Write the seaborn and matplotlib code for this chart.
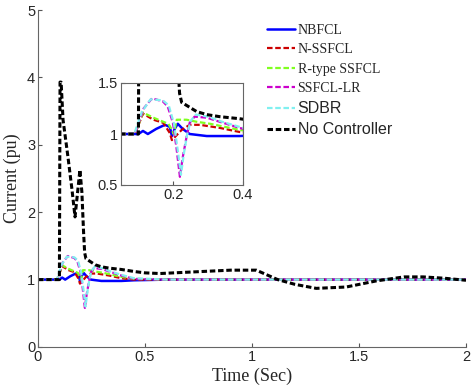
import matplotlib
matplotlib.use('Agg')
import matplotlib.pyplot as plt
import seaborn as sns
import pandas as pd

# Data (time in sec, current in pu)
t_nbfcl = [0, 0.1, 0.113, 0.127, 0.151, 0.176, 0.19, 0.196, 0.204, 0.213, 0.227, 0.247, 0.296, 0.39, 0.45, 0.6, 1.0, 1.5, 2.0]
i_nbfcl = [1.0, 1.0, 1.03, 1.0, 1.05, 1.09, 1.07, 0.98, 1.05, 1.1, 1.05, 1.0, 0.98, 0.98, 0.99, 1.0, 1.0, 1.0, 1.0]

t_nssfcl = [0, 0.09, 0.113, 0.143, 0.171, 0.19, 0.196, 0.21, 0.224, 0.247, 0.276, 0.333, 0.39, 0.45, 0.6, 1.0, 1.5, 2.0]
i_nssfcl = [1.0, 1.0, 1.2, 1.14, 1.11, 1.01, 0.94, 0.99, 1.04, 1.09, 1.09, 1.06, 1.02, 1.0, 1.0, 1.0, 1.0, 1.0]

t_rtype = [0, 0.09, 0.113, 0.143, 0.171, 0.186, 0.196, 0.201, 0.21, 0.238, 0.267, 0.306, 0.39, 0.45, 0.6, 1.0, 1.5, 2.0]
i_rtype = [1.0, 1.0, 1.21, 1.16, 1.12, 1.1, 1.04, 1.0, 1.14, 1.14, 1.12, 1.1, 1.04, 1.01, 1.0, 1.0, 1.0, 1.0]

t_lr = [0, 0.09, 0.115, 0.139, 0.17, 0.184, 0.199, 0.209, 0.219, 0.227, 0.238, 0.247, 0.261, 0.296, 0.333, 0.39, 0.45, 0.6, 1.0, 1.5, 2.0]
i_lr = [1.0, 1.0, 1.25, 1.35, 1.32, 1.27, 1.11, 0.87, 0.58, 0.77, 0.97, 1.11, 1.17, 1.16, 1.12, 1.06, 1.01, 1.0, 1.0, 1.0, 1.0]

t_sdbr = [0, 0.088, 0.11, 0.135, 0.17, 0.187, 0.202, 0.212, 0.222, 0.23, 0.24, 0.25, 0.265, 0.3, 0.34, 0.39, 0.45, 0.6, 1.0, 1.5, 2.0]
i_sdbr = [1.0, 1.0, 1.22, 1.34, 1.33, 1.28, 1.1, 0.86, 0.6, 0.8, 1.0, 1.13, 1.19, 1.17, 1.12, 1.07, 1.02, 1.0, 1.0, 1.0, 1.0]

t_none = [0, 0.1, 0.103, 0.108, 0.117, 0.14, 0.159, 0.173, 0.196, 0.205, 0.213, 0.218, 0.224, 0.267, 0.296, 0.333, 0.39,
          0.45, 0.5, 0.57, 0.7, 0.9, 1.02, 1.12, 1.2, 1.3, 1.44, 1.58, 1.71, 1.8, 1.9, 2.0]
i_none = [1.0, 1.0, 3.93, 3.93, 3.37, 2.82, 2.33, 1.93, 2.63, 2.3, 1.7, 1.4, 1.31, 1.22, 1.19, 1.17, 1.15,
          1.12, 1.1, 1.09, 1.11, 1.14, 1.14, 1.0, 0.93, 0.87, 0.89, 0.98, 1.04, 1.04, 1.02, 0.99]

series = [
    ('NBFCL', t_nbfcl, i_nbfcl, '#0000ff', '-', 1.8),
    ('N-SSFCL', t_nssfcl, i_nssfcl, '#cc0000', (0, (2.5, 1.2)), 1.6),
    ('R-type SSFCL', t_rtype, i_rtype, '#80ff20', (0, (2.5, 1.2)), 1.6),
    ('SSFCL-LR', t_lr, i_lr, '#cc00cc', (0, (2.5, 1.2)), 1.6),
    ('SDBR', t_sdbr, i_sdbr, '#80f0f0', (0, (2.5, 1.2)), 1.6),
    ('No Controller', t_none, i_none, '#000000', (0, (1.8, 0.9)), 2.2),
]

sns.set_style('ticks')
plt.rcParams['font.family'] = ['Liberation Sans', 'DejaVu Sans']
plt.rcParams['xtick.direction'] = 'in'
plt.rcParams['ytick.direction'] = 'in'

fig = plt.figure(figsize=(4.74, 3.92), dpi=100)
ax = fig.add_axes([38 / 474, 1 - 347 / 392, 428 / 474, 337 / 392])

for name, t, i, color, ls, lw in series:
    df = pd.DataFrame({'Time': t, 'Current': i})
    sns.lineplot(data=df, x='Time', y='Current', ax=ax, color=color, linestyle=ls,
                 linewidth=lw, label=name, sort=False, estimator=None)

ax.set_xlim(0, 2)
ax.set_ylim(0, 5)
ax.set_xticks([0, 0.5, 1, 1.5, 2])
ax.set_xticklabels(['0', '0.5', '1', '1.5', '2'])
ax.set_yticks([0, 1, 2, 3, 4, 5])
ax.tick_params(labelsize=10.5, pad=2, length=3, color='#555555')
for side in ['top', 'right']:
    ax.spines[side].set_visible(False)
for side in ['left', 'bottom']:
    ax.spines[side].set_color('#666666')
    ax.spines[side].set_linewidth(0.8)
ax.set_xlabel('Time (Sec)', family='Liberation Serif', fontsize=13, labelpad=3)
ax.set_ylabel('Current (pu)', family='Liberation Serif', fontsize=13, labelpad=4)

handles, labels = ax.get_legend_handles_labels()
leg = ax.legend(handles, labels, loc='upper left', bbox_to_anchor=(267 / 474, 1 - 24 / 392),
                bbox_transform=fig.transFigure, frameon=False, borderpad=0, borderaxespad=0,
                handlelength=2.0, handletextpad=0.2, labelspacing=0.45)
for k, txt in enumerate(leg.get_texts()):
    if k < 4:
        txt.set_fontfamily('Liberation Serif')
        txt.set_fontsize(10)
    else:
        txt.set_fontfamily('Liberation Sans')
        txt.set_fontsize(11.5)

# zoomed inset
ins = fig.add_axes([121 / 474, 1 - 185 / 392, 122 / 474, 102 / 392])
for name, t, i, color, ls, lw in series:
    df = pd.DataFrame({'Time': t, 'Current': i})
    sns.lineplot(data=df, x='Time', y='Current', ax=ins, color=color, linestyle=ls,
                 linewidth=lw, sort=False, estimator=None, legend=False)
ins.set_xlim(0.05, 0.4)
ins.set_ylim(0.5, 1.5)
ins.set_xticks([0.2, 0.4])
ins.set_xticklabels(['0.2', '0.4'])
ins.set_yticks([0.5, 1, 1.5])
ins.set_yticklabels(['0.5', '1', '1.5'])
ins.set_xlabel('')
ins.set_ylabel('')
ins.tick_params(labelsize=10.5, pad=2, length=3, color='#555555')
for side in ins.spines.values():
    side.set_color('#666666')
    side.set_linewidth(0.8)

fig.savefig('out.png', dpi=100)
